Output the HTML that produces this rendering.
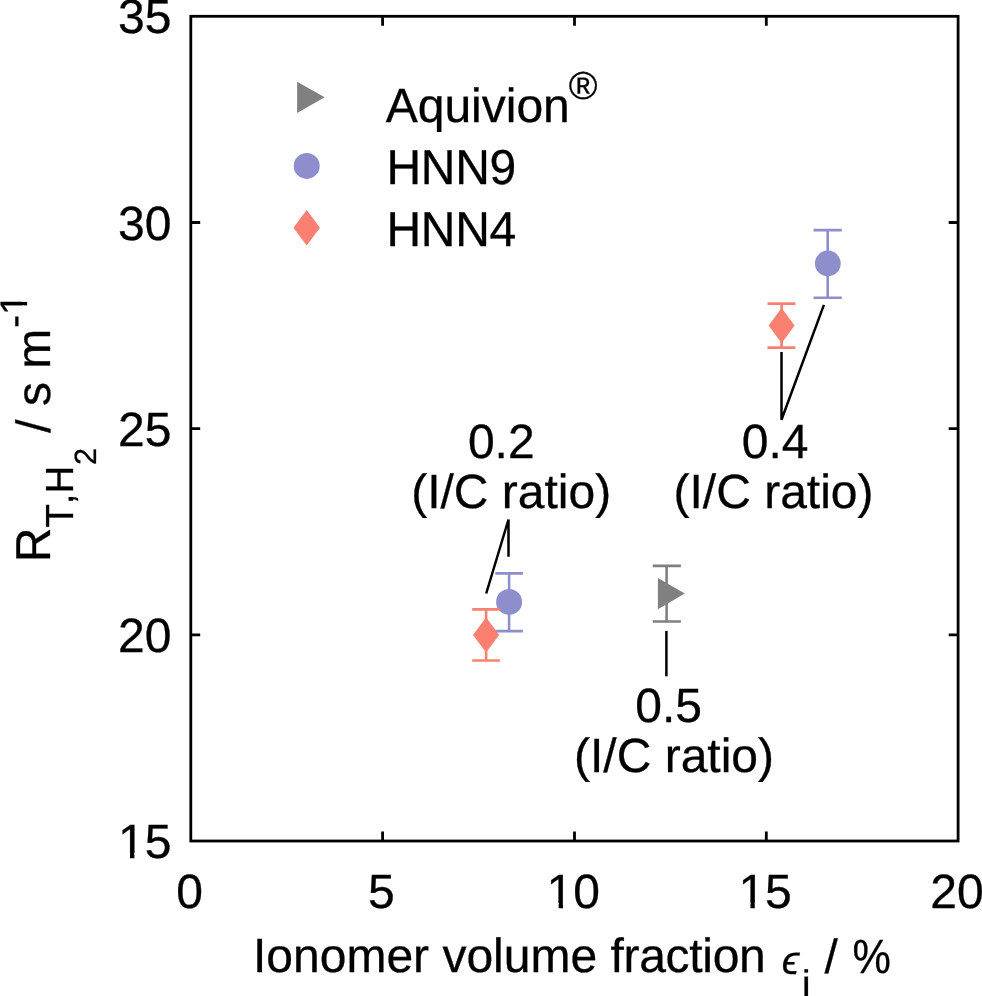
<!DOCTYPE html>
<html lang="en">
<head>
<meta charset="utf-8">
<title>Ionomer volume fraction vs transport resistance</title>
<style>
html,body{margin:0;padding:0;background:#fff;}
body{width:982px;height:996px;overflow:hidden;}
svg{display:block;}
text{font-family:"Liberation Sans",Arial,Helvetica,sans-serif;fill:#000;stroke:#000;stroke-width:0.3;font-kerning:none;font-variant-ligatures:none;text-rendering:geometricPrecision;}
.t{font-size:48px;}
.s{font-size:38.4px;}
.ss{font-size:30.7px;}
.ax{stroke:#000;stroke-width:2.8;fill:none;}
.ln{stroke:#000;stroke-width:2.5;fill:none;}
.b{stroke:#8e8ecd;stroke-width:2.6;fill:none;}
.r{stroke:#fa8072;stroke-width:2.6;fill:none;}
.g{stroke:#808080;stroke-width:2.6;fill:none;}
</style>
</head>
<body>
<svg width="982" height="996" viewBox="0 0 982 996">
<rect x="0" y="0" width="982" height="996" fill="#ffffff"/>

<!-- y tick labels -->
<text class="t" x="171.4" y="33" text-anchor="end">35</text>
<text class="t" x="171.4" y="240" text-anchor="end">30</text>
<text class="t" x="171.4" y="446" text-anchor="end">25</text>
<text class="t" x="171.4" y="652" text-anchor="end">20</text>
<text class="t" x="171.4" y="858" text-anchor="end">15</text>
<rect x="120.07" y="853.01" width="9.96" height="6.59" fill="#fff"/><rect x="134.37" y="853.01" width="9.59" height="6.59" fill="#fff"/>
<!-- x tick labels -->
<text class="t" x="189.6" y="908" text-anchor="middle">0</text>
<text class="t" x="381.4" y="908" text-anchor="middle">5</text>
<text class="t" x="573.3" y="908" text-anchor="middle">10</text>
<text class="t" x="765.1" y="908" text-anchor="middle">15</text>
<text class="t" x="956.9" y="908" text-anchor="middle">20</text>
<rect x="548.66" y="903.01" width="9.96" height="6.59" fill="#fff"/><rect x="562.97" y="903.01" width="9.59" height="6.59" fill="#fff"/>
<rect x="740.46" y="903.01" width="9.96" height="6.59" fill="#fff"/><rect x="754.77" y="903.01" width="9.59" height="6.59" fill="#fff"/>

<!-- axes box -->
<rect class="ax" x="190.8" y="16.3" width="767.3" height="824.7"/>
<!-- x ticks bottom/top -->
<path class="ax" d="M382.6 841V831.6M574.5 841V831.6M766.3 841V831.6M382.6 16.3V25.7M574.5 16.3V25.7M766.3 16.3V25.7"/>
<!-- y ticks left/right -->
<path class="ax" d="M190.8 222.5H200.2M190.8 428.6H200.2M190.8 634.8H200.2M958.1 222.5H948.7M958.1 428.6H948.7M958.1 634.8H948.7"/>

<!-- x axis label -->
<text class="t" x="253" y="972">Ionomer volume <tspan letter-spacing="-0.3">fraction</tspan></text>
<text x="781.8" y="973.6" font-size="40" font-style="italic" stroke="none">ϵ</text>
<text class="s" x="801.9" y="997">i</text>
<text class="t" x="824.6" y="972.6">/</text>
<text class="t" transform="translate(852.4 973) scale(0.9 1)">%</text>

<!-- y axis label -->
<g transform="translate(49.8 428.6) rotate(-90)">
<text class="t" transform="translate(-133.7 0.3) scale(1 1.02)">R</text>
<text class="s" transform="translate(-99 23.6) scale(1 1.02)">T,H</text>
<text class="ss" x="-36.5" y="46.4">2</text>
<text class="t" x="-17.4" y="0.2" xml:space="preserve"> / s m</text>
<text class="s" x="100.8" y="-23.0">-1</text>
<rect x="114.91" y="-27.27" width="8.28" height="5.87" fill="#fff"/><rect x="126.69" y="-27.27" width="7.98" height="5.87" fill="#fff"/>
</g>

<!-- legend -->
<path d="M297.1 81.7V112.9L324.7 97.3Z" fill="#808080"/>
<circle cx="306.7" cy="165.9" r="13" fill="#8e8ecd"/>
<path d="M306.7 210.1L320 227.8L306.7 245.5L293.4 227.8Z" fill="#fa8072"/>
<text class="t" x="385.7" y="122">Aquivion</text>
<text x="568.8" y="99" font-size="39" stroke-width="0.9">®</text>
<text class="t" transform="translate(386.5 184) scale(1 1.02)" letter-spacing="-0.35">HNN9</text>
<text class="t" transform="translate(386.5 246) scale(1 1.02)" letter-spacing="-0.35">HNN4</text>

<!-- annotation leader lines -->
<path class="ln" d="M508.5 556.8V519.5L486.2 593.5"/>
<path class="ln" d="M781.5 352V419.8L823.9 304.9"/>
<path class="ln" d="M666.4 630.9V676.3"/>

<!-- annotation texts -->
<text class="t" x="467.9" y="458">0.2</text>
<text class="t" x="411.2" y="508">(I/C ratio)</text>
<text class="t" x="741.7" y="458">0.4</text>
<text class="t" x="673.5" y="508">(I/C ratio)</text>
<text class="t" x="635.3" y="722">0.5</text>
<text class="t" x="574" y="772">(I/C ratio)</text>

<!-- HNN9 (blue) -->
<path class="b" d="M509.1 573.4V631.1M495.3 573.4H522.9M495.3 631.1H522.9"/>
<circle cx="509.1" cy="601.9" r="13" fill="#8e8ecd"/>
<path class="b" d="M827.7 230.1V297.7M813.6 230.1H841.8M813.6 297.7H841.8"/>
<circle cx="827.8" cy="263.5" r="12.9" fill="#8e8ecd"/>

<!-- HNN4 (red) -->
<path class="r" d="M486.1 609.4V660.5M472.2 609.4H499.9M472.2 660.5H499.9"/>
<path d="M486.1 617.3L499.2 634.9L486.1 652.5L473 634.9Z" fill="#fa8072"/>
<path class="r" d="M781.6 303.6V347.6M767.5 303.6H795.4M767.5 347.6H795.4"/>
<path d="M781.6 308L794.6 325.6L781.6 343.2L768.6 325.6Z" fill="#fa8072"/>

<!-- Aquivion (gray) -->
<path class="g" d="M666.6 565.9V621.5M652.7 565.9H680.9M652.7 621.5H680.9"/>
<path d="M657.9 577.9V609.2L684.8 593.5Z" fill="#808080"/>
</svg>
</body>
</html>
